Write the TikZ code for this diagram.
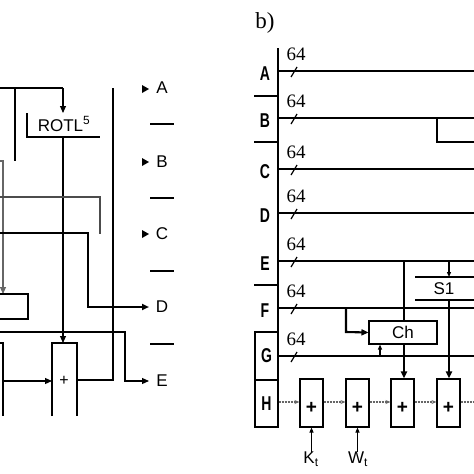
\documentclass[tikz,border=0pt]{standalone}
\usepackage{fontspec}
\setmainfont{Liberation Serif}
\setsansfont{Liberation Sans}
\usetikzlibrary{arrows.meta}
\begin{document}
\begin{tikzpicture}[x=1pt,y=-1pt,
  thk/.style={line width=2.1pt},
  thn/.style={line width=1.1pt},
  arr/.style={-{Triangle[length=7pt,width=6pt]}},
  sarr/.style={-{Triangle[length=5pt,width=4pt]}},
  dotarr/.style={line width=1.4pt,black!60,dash pattern=on 2pt off 1pt,-{Stealth[length=5pt,width=4pt]}},
  lab/.style={font=\sffamily\fontsize{17}{17}\selectfont,inner sep=0pt},
  rlab/.style={font=\sffamily\bfseries\fontsize{20}{20}\selectfont,inner sep=0pt},
  num/.style={font=\rmfamily\fontsize{19}{19}\selectfont,inner sep=0pt},
  plus/.style={font=\sffamily\bfseries\fontsize{19}{19}\selectfont,inner sep=0pt},
  box/.style={draw,thn,minimum width=23pt,minimum height=48pt,inner sep=0pt},
  tri/.style={fill=black}]
\useasboundingbox (0,0) rectangle (474,474);
\fill[white] (0,0) rectangle (474,474);
\clip (0,0) rectangle (474,474);

% ================= left panel (a) =================
\coordinate (aL0) at (-5,88);
\coordinate (aR0) at (63,88);
\coordinate (rotTop) at (63,113);
\draw[thk] (aL0) -- (aR0);
\draw[thn,arr] (aR0) -- (rotTop);
\coordinate (v15a) at (15,88);
\coordinate (v15b) at (15,161);
\draw[thk] (v15a) -- (v15b);
% ROTL box (open)
\coordinate (rotA) at (27,113);
\coordinate (rotB) at (27,137);
\coordinate (rotC) at (100,137);
\draw[thn] (rotA) -- (rotB) -- (rotC);
\node[lab] (rotl) at (64,124) {ROTL\textsuperscript{5}};
\coordinate (rotOut) at (63,137);
\coordinate (addTopL) at (63,343);
\draw[thn,arr] (rotOut) -- (addTopL);
% feedback thick
\coordinate (addOut) at (77,380);
\coordinate (fbA) at (113,380);
\coordinate (fbB) at (113,88);
\draw[thk] (addOut) -- (fbA) -- (fbB);
% left gray line into box
\coordinate (g0) at (-5,161);
\coordinate (g1) at (3,161);
\coordinate (g2) at (3,294);
\draw[thn,black!60,arr] (g0) -- (g1) -- (g2);
\draw[thn] (-5,294) -- (28,294) -- (28,319) -- (-5,319);
% line to x=100
\coordinate (h1a) at (-5,197);
\coordinate (h1b) at (100,197);
\coordinate (h1c) at (100,234);
\draw[line width=1.5pt,black!70] (h1a) -- (h1b) -- (h1c);
% to D
\coordinate (dA) at (-5,233);
\coordinate (dB) at (88,233);
\coordinate (dC) at (88,307);
\coordinate (dTip) at (149,307);
\draw[thk,arr] (dA) -- (dB) -- (dC) -- (dTip);
% to E
\coordinate (eA) at (-5,332);
\coordinate (eB) at (125,332);
\coordinate (eC) at (125,381);
\coordinate (eTip) at (149,381);
\draw[thn,arr] (eA) -- (eB) -- (eC) -- (eTip);
% left partial box and adder
\draw[thn] (-5,343) -- (3,343) -- (3,416);
\coordinate (lbOut) at (3,381);
\coordinate (addIn) at (52,381);
\draw[thn,arr] (lbOut) -- (addIn);
\draw[thn] (52,416) -- (52,343) -- (77,343) -- (77,416);
\node[inner sep=0pt,font=\sffamily\fontsize{16}{16}\selectfont] (addA) at (64,381) {+};
% output triangles and labels
\fill[tri] (142,85) -- (149,89) -- (142,93) -- cycle;
\fill[tri] (142,158) -- (149,162) -- (142,166) -- cycle;
\fill[tri] (142,230) -- (149,234) -- (142,238) -- cycle;
\node[lab] (oA) at (162,88) {A};
\node[lab] (oB) at (162,162) {B};
\node[lab] (oC) at (162,234) {C};
\node[lab] (oD) at (162,307) {D};
\node[lab] (oE) at (162,381) {E};
\foreach \yy in {124,198,271,344} \draw[thn] (150,\yy) -- (174,\yy);

% ================= right panel (b) =================
\node[font=\rmfamily\fontsize{23}{23}\selectfont,inner sep=0pt] (blab) at (265,23) {b)};
\coordinate (spT) at (278,48);
\coordinate (spB) at (278,332);
\draw[thn] (spT) -- (spB);
\foreach \yy in {96,142,285} \draw[thn] (254,\yy) -- (278,\yy);
% register lines
\draw[thk] (278,71) -- (480,71);
\draw[thk] (278,118) -- (480,118);
\draw[line width=1.4pt] (278,169) -- (480,169);
\draw[thk] (278,213) -- (318,213);
\draw[line width=1.4pt] (318,213) -- (480,213);
\draw[line width=1.4pt] (278,261) -- (480,261);
\draw[thk] (278,308) -- (480,308);
\draw[line width=1.4pt] (278,356) -- (480,356);
% labels, 64s and slashes
\foreach \l/\yy in {A/71,B/118,C/169,D/213,E/261,F/308}
  \node[rlab] at (265,\yy+3) {\scalebox{0.7}[1]{\l}};
\foreach \yy in {71,118,169,213,261,308,356} {
  \node[num] at (296,\yy-17) {64};
  \draw[line width=1.2pt] (291,\yy+6) -- (297,\yy-4);
}
% B branch
\coordinate (bb1) at (437,118);
\coordinate (bb2) at (437,142);
\draw[thk] (bb1) -- (bb2) -- (480,142);
% G and H boxes
\node[draw,thn,minimum width=23pt,minimum height=48pt,inner sep=0pt,rlab] (Gbox) at (266.5,356) {\scalebox{0.7}[1]{G}};
\node[draw,thn,minimum width=23pt,minimum height=47pt,inner sep=0pt,rlab] (Hbox) at (266.5,403.5) {\scalebox{0.7}[1]{H}};
% S1
\coordinate (s1in) at (449,261);
\coordinate (s1top) at (449,277);
\draw[thn,sarr] (s1in) -- (s1top);
\draw[thn] (415,277) -- (480,277);
\draw[thn] (415,300) -- (480,300);
\node[lab] (s1) at (444,289) {S1};
% Ch
\node[draw,thn,minimum width=68pt,minimum height=23pt,inner sep=0pt,lab] (ch) at (403,332.5) {Ch};
\coordinate (eTap) at (404,261);
\draw[thk] (eTap) -- (ch.north -| eTap);
\coordinate (fTap) at (346,308);
\coordinate (fCorner) at (346,332);
\draw[thk,arr] (fTap) -- (fCorner) -- (ch.west);
\coordinate (gTap) at (380,356);
\draw[thn,sarr] (gTap) -- (ch.south -| gTap);
% adders
\node[box] (p1) at (311.5,403) {};
\node[box] (p2) at (357.5,403) {};
\node[box] (p3) at (402.5,403) {};
\node[box] (p4) at (448.5,403) {};
\foreach \p in {p1,p2,p3,p4} \node[plus] at ([yshift=-5pt]\p.center) {+};
\draw[thk,arr] (ch.south -| eTap) -- (p3.north -| eTap);
\coordinate (s1out) at (449,300);
\draw[thk,arr] (s1out) -- (p4.north -| s1out);
% dotted chain
\draw[dotarr] (Hbox.east |- 0,402) -- (p1.west |- 0,402);
\draw[dotarr] (p1.east |- 0,402) -- (p2.west |- 0,402);
\draw[dotarr] (p2.east |- 0,402) -- (p3.west |- 0,402);
\draw[dotarr] (p3.east |- 0,402) -- (p4.west |- 0,402);
\coordinate (chainEnd) at (482,402);
\draw[dotarr] (p4.east |- 0,402) -- (chainEnd);
% Kt, Wt
\node[lab] (kt) at (311,459) {K\textsubscript{t}};
\node[lab] (wt) at (358,459) {W\textsubscript{t}};
\draw[thn,sarr] (kt.north -| p1) -- (p1.south);
\draw[thn,sarr] (wt.north -| p2) -- (p2.south);
\end{tikzpicture}
\end{document}
